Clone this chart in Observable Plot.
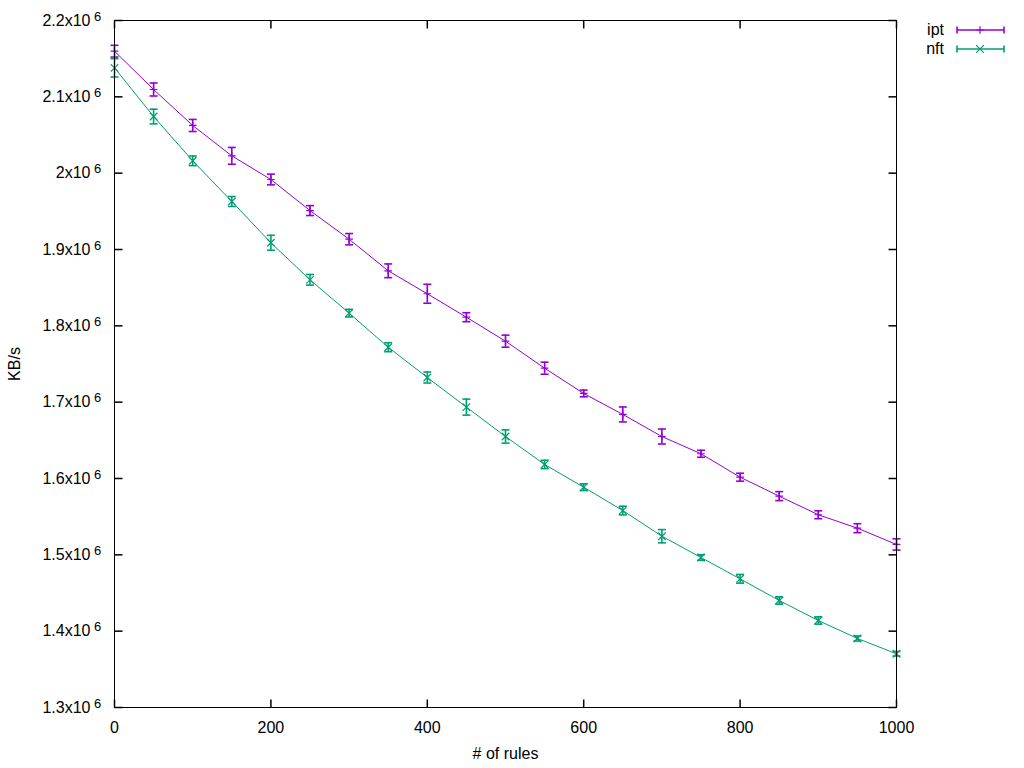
<!DOCTYPE html>
<html>
<head>
<meta charset="utf-8">
<script src="https://cdn.jsdelivr.net/npm/d3@7"></script>
<script src="https://cdn.jsdelivr.net/npm/@observablehq/plot@0.6"></script>
<style>
  html, body { margin: 0; padding: 0; background: #fff; }
  #chart { width: 1024px; height: 768px; }
</style>
</head>
<body>
<div id="chart"></div>
<script>
// ---- data ----
const ruleCounts = [0, 50, 100, 150, 200, 250, 300, 350, 400, 450, 500, 550, 600, 650, 700, 750, 800, 850, 900, 950, 1000];
const iptMean = [2159800, 2109600, 2062500, 2022700, 1991700, 1951000, 1913500, 1872100, 1842000, 1811300, 1779900, 1744500, 1711400, 1683900, 1655000, 1632400, 1601700, 1576900, 1552500, 1534900, 1513600];
const iptErr  = [7700, 8500, 7900, 11000, 7000, 6500, 7400, 9000, 12400, 5900, 7900, 7900, 4400, 9800, 9800, 4600, 5200, 5900, 5200, 5900, 7400];
const nftMean = [2138000, 2074200, 2016200, 1962900, 1908800, 1860300, 1816600, 1772000, 1732300, 1693500, 1655000, 1618400, 1588600, 1558000, 1524400, 1496500, 1468600, 1440200, 1414000, 1390400, 1370400];
const nftErr  = [12000, 9600, 6300, 6500, 9800, 7000, 5000, 5900, 7200, 10500, 8700, 5500, 4400, 5700, 8700, 3700, 5700, 4800, 4800, 3300, 3000];
const seriesNames = ["ipt", "nft"];
const seriesColors = ["#9400d3", "#009e73"];
const xTicks = [0, 200, 400, 600, 800, 1000];
const yTicks = [1300000, 1400000, 1500000, 1600000, 1700000, 1800000, 1900000, 2000000, 2100000, 2200000];
const xLabel = "# of rules";
const yLabel = "KB/s";

// ---- build rows ----
const mk = (means, errs) => ruleCounts.map((x, i) => ({x, y: means[i], lo: means[i] - errs[i], hi: means[i] + errs[i]}));
const ipt = mk(iptMean, iptErr);
const nft = mk(nftMean, nftErr);

// ---- custom symbols ----
const cap = {draw(c) { c.moveTo(-4, 0); c.lineTo(4, 0); }};
const tickUp = {draw(c) { c.moveTo(0, 0); c.lineTo(0, -8); }};
const tickDown = {draw(c) { c.moveTo(0, 0); c.lineTo(0, 8); }};
const tickRight = {draw(c) { c.moveTo(0, 0); c.lineTo(8, 0); }};
const tickLeft = {draw(c) { c.moveTo(0, 0); c.lineTo(-8, 0); }};

const FONT = "'Liberation Sans', Arial, Helvetica, sans-serif";

function seriesMarks(rows, color, symbol, r) {
  return [
    Plot.line(rows, {x: "x", y: "y", stroke: color, strokeWidth: 1}),
    Plot.ruleX(rows, {x: "x", y1: "lo", y2: "hi", stroke: color, strokeWidth: 1.6}),
    Plot.dot(rows, {x: "x", y: "lo", symbol: cap, stroke: color, fill: "none", strokeWidth: 1.6}),
    Plot.dot(rows, {x: "x", y: "hi", symbol: cap, stroke: color, fill: "none", strokeWidth: 1.6}),
    Plot.dot(rows, {x: "x", y: "y", symbol, r, stroke: color, fill: "none", strokeWidth: 1.2})
  ];
}

const chart = Plot.plot({
  width: 1024,
  height: 768,
  marginLeft: 114,
  marginRight: 128,
  marginTop: 20,
  marginBottom: 61,
  style: {fontFamily: FONT, fontSize: "16px", background: "#fff", color: "#000"},
  x: {domain: [0, 1000]},
  y: {domain: [1300000, 2200000]},
  marks: [
    ...seriesMarks(ipt, seriesColors[0], "plus", 2.6),
    ...seriesMarks(nft, seriesColors[1], "times", 3.5),
    Plot.frame({stroke: "#000", strokeWidth: 1}),
    // inward ticks, mirrored
    Plot.dot(xTicks, {x: d => d, frameAnchor: "bottom", symbol: tickUp, stroke: "#000", fill: "none"}),
    Plot.dot(xTicks, {x: d => d, frameAnchor: "top", symbol: tickDown, stroke: "#000", fill: "none"}),
    Plot.dot(yTicks, {y: d => d, frameAnchor: "left", symbol: tickRight, stroke: "#000", fill: "none"}),
    Plot.dot(yTicks, {y: d => d, frameAnchor: "right", symbol: tickLeft, stroke: "#000", fill: "none"}),
    Plot.axisX({ticks: xTicks, tickSize: 0, tickPadding: 14, tickFormat: d => String(d), label: null, fontSize: 16}),
    Plot.axisY({ticks: yTicks, tickSize: 0, tickPadding: 24, tickFormat: d => (+(d / 1e6).toFixed(1)) + "x10", label: null, fontSize: 16}),
    Plot.text(yTicks, {y: d => d, frameAnchor: "left", text: () => "6", dx: -20.5, dy: -4, textAnchor: "start", lineAnchor: "middle", fontSize: 13}),
    Plot.text([yLabel], {frameAnchor: "left", text: d => d, rotate: -90, dx: -100, textAnchor: "middle", lineAnchor: "middle", fontSize: 16}),
    Plot.text([xLabel], {frameAnchor: "bottom", text: d => d, dy: 46, textAnchor: "middle", lineAnchor: "middle", fontSize: 16})
  ]
});

document.getElementById("chart").appendChild(chart);

// ---- legend (top right, gnuplot style) ----
const svg = d3.select(chart);
const lg = svg.append("g").attr("font-family", FONT).attr("font-size", 16);
const legendRows = [
  {name: seriesNames[0], color: seriesColors[0], symbol: d3.symbolPlus, size: 20.8, y: 30},
  {name: seriesNames[1], color: seriesColors[1], symbol: d3.symbolTimes, size: 40.7, y: 49}
];
for (const row of legendRows) {
  lg.append("text").attr("x", 944).attr("y", row.y).attr("dy", "0.32em").attr("text-anchor", "end").text(row.name);
  lg.append("line").attr("x1", 957).attr("x2", 1004).attr("y1", row.y).attr("y2", row.y).attr("stroke", row.color).attr("stroke-width", 1.6);
  for (const cx of [957, 1004]) {
    lg.append("line").attr("x1", cx).attr("x2", cx).attr("y1", row.y - 3.5).attr("y2", row.y + 3.5).attr("stroke", row.color).attr("stroke-width", 1.6);
  }
  lg.append("path").attr("d", d3.symbol(row.symbol, row.size)()).attr("transform", `translate(980,${row.y})`)
    .attr("fill", "none").attr("stroke", row.color).attr("stroke-width", 1.2);
}
</script>
</body>
</html>
